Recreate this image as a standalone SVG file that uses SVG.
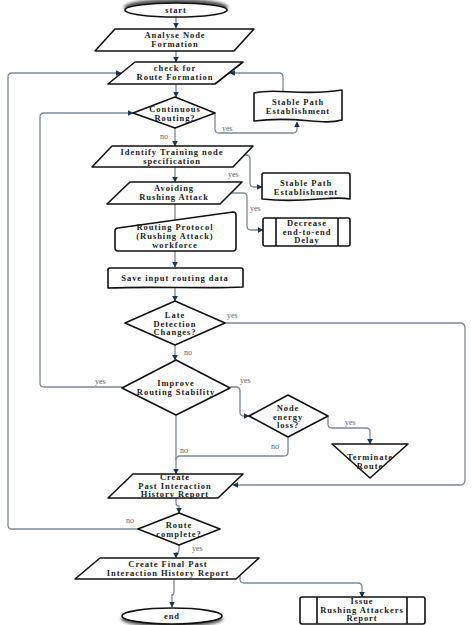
<svg xmlns="http://www.w3.org/2000/svg" width="474" height="625" viewBox="0 0 474 625">
<defs>
<style>
.s{fill:#fff;stroke:#111;stroke-width:1.6;stroke-linejoin:round}
.t{font-family:"Liberation Serif","Times New Roman",serif;font-weight:bold;font-size:8.5px;letter-spacing:0.95px;fill:#222;text-anchor:middle}
.c{fill:none;stroke:#7d8893;stroke-width:1.3}
.l{font-family:"Liberation Serif","Times New Roman",serif;font-size:8px;fill:#666}
</style>
<marker id="a" viewBox="0 0 10 10" refX="9" refY="5" markerWidth="6" markerHeight="6" orient="auto" markerUnits="userSpaceOnUse">
<path d="M0 0L10 5L0 10Z" fill="#1d3650"/>
</marker>
<filter id="sh" x="-20%" y="-50%" width="140%" height="200%"><feGaussianBlur stdDeviation="1.5"/></filter>
</defs>
<rect width="474" height="625" fill="#fff"/>

<g id="connectors">
<path class="c" d="M176 17V28" marker-end="url(#a)"/>
<path class="c" d="M176 51V62" marker-end="url(#a)"/>
<path class="c" d="M176 84V97" marker-end="url(#a)"/>
<path class="c" d="M175 128V146" marker-end="url(#a)"/>
<path class="c" d="M175 167V182" marker-end="url(#a)"/>
<path class="c" d="M175 204V220"/>
<path class="c" d="M175 251V267" marker-end="url(#a)"/>
<path class="c" d="M175 288V301" marker-end="url(#a)"/>
<path class="c" d="M175 345V360" marker-end="url(#a)"/>
<path class="c" d="M176 415V474" marker-end="url(#a)"/>
<path class="c" d="M176 498V503Q176 506 179 506V513" marker-end="url(#a)"/>
<path class="c" d="M179 545V550Q179 553 176 553V558" marker-end="url(#a)"/>
<path class="c" d="M174 579V592Q174 595 172 595V607" marker-end="url(#a)"/>
<path class="c" d="M138 529H12Q8 529 8 525V77Q8 73 12 73H121" marker-end="url(#a)"/>
<path class="c" d="M283 91V77Q283 73 279 73H230" marker-end="url(#a)"/>
<path class="c" d="M215 113V129Q215 133 219 133H293Q297 133 297 129V122" marker-end="url(#a)"/>
<path class="c" d="M245 155H246Q250 155 250 159V183Q250 187 254 187H262" marker-end="url(#a)"/>
<path class="c" d="M219 193H243Q247 193 247 197V226Q247 230 251 230H263" marker-end="url(#a)"/>
<path class="c" d="M225 323H460Q465 323 465 328V480Q465 485 460 485H233" marker-end="url(#a)"/>
<path class="c" d="M122 387H44Q40 387 40 383V117Q40 113 44 113H133" marker-end="url(#a)"/>
<path class="c" d="M230 387H236Q240 387 240 391V412Q240 416 244 416H249" marker-end="url(#a)"/>
<path class="c" d="M328 416V424Q328 428 332 428H366Q370 428 370 432V444" marker-end="url(#a)"/>
<path class="c" d="M288 437V452Q288 456 284 456H180Q176 456 176 460"/>
<path class="c" d="M240 569V579Q240 583 244 583H358Q362 583 362 587V597" marker-end="url(#a)"/>
<text class="l" x="222" y="131">yes</text>
<text class="l" x="160" y="139">no</text>
<text class="l" x="228" y="177">yes</text>
<text class="l" x="250" y="211">yes</text>
<text class="l" x="227" y="318">yes</text>
<text class="l" x="184" y="355">no</text>
<text class="l" x="95" y="384">yes</text>
<text class="l" x="240" y="383">yes</text>
<text class="l" x="345" y="425">yes</text>
<text class="l" x="271" y="449">no</text>
<text class="l" x="180" y="453">no</text>
<text class="l" x="126" y="523">no</text>
<text class="l" x="192" y="551">yes</text>
</g>

<g id="start">
<ellipse cx="176" cy="7" rx="52" ry="8" fill="#555" filter="url(#sh)"/>
<ellipse class="s" cx="176" cy="10" rx="51" ry="7"/>
<text class="t" x="176" y="13">start</text>
</g>

<g id="analyse">
<path class="s" d="M115 29H254L234 51H95Z"/>
<text class="t" x="175" y="38">Analyse Node</text>
<text class="t" x="175" y="47">Formation</text>
</g>

<g id="check">
<path class="s" d="M135 62H243L215 84H108Z"/>
<text class="t" x="175" y="71">check for</text>
<text class="t" x="175" y="80">Route Formation</text>
</g>

<g id="stable1">
<path class="s" d="M254 93C276 87 300 97 342 90V120C320 126 298 115 254 121Z"/>
<text class="t" x="298" y="105">Stable Path</text>
<text class="t" x="298" y="114">Establishment</text>
</g>

<g id="continuous">
<path class="s" d="M175 97L215 113L175 128L133 113Z"/>
<text class="t" x="175" y="112">Continuous</text>
<text class="t" x="175" y="121">Routing?</text>
</g>

<g id="identify">
<path class="s" d="M112 146H253L233 167H92Z"/>
<text class="t" x="172" y="155">Identify Training node</text>
<text class="t" x="172" y="164">specification</text>
</g>

<g id="stable2">
<path class="s" d="M262 175Q262 173 264 173H348Q350 173 350 175V199C330 195 306 204 262 199Z"/>
<text class="t" x="306" y="186">Stable Path</text>
<text class="t" x="306" y="195">Establishment</text>
</g>

<g id="avoiding">
<path class="s" d="M130 182H242L220 204H107Z"/>
<text class="t" x="174" y="191">Avoiding</text>
<text class="t" x="174" y="200">Rushing Attack</text>
</g>

<g id="decrease">
<rect class="s" x="263" y="218" width="87" height="28" rx="2"/>
<path class="s" d="M276 218V246M338 218V246"/>
<text class="t" x="307" y="226">Decrease</text>
<text class="t" x="307" y="234.5">end-to-end</text>
<text class="t" x="307" y="243">Delay</text>
</g>

<g id="routing">
<path class="s" d="M118 228L233 212Q236 212 236 215V248Q236 251 233 251H118Q115 251 115 248V231Q115 228 118 228Z"/>
<text class="t" x="175" y="230">Routing  Protocol</text>
<text class="t" x="175" y="239">(Rushing Attack)</text>
<text class="t" x="175" y="248">workforce</text>
</g>

<g id="save">
<path class="s" d="M110 268H241Q243 268 243 270V287C210 289 150 286 108 288V270Q108 268 110 268Z"/>
<text class="t" x="175" y="281">Save input routing data</text>
</g>

<g id="late">
<path class="s" d="M175 301L225 323L175 345L125 323Z"/>
<text class="t" x="175" y="318">Late</text>
<text class="t" x="175" y="326.5">Detection</text>
<text class="t" x="175" y="335">Changes?</text>
</g>

<g id="improve">
<path class="s" d="M176 360L230 388L176 415L122 388Z"/>
<text class="t" x="176" y="386">Improve</text>
<text class="t" x="176" y="395">Routing Stability</text>
</g>

<g id="energy">
<path class="s" d="M288 395L328 416L288 437L249 416Z"/>
<text class="t" x="288" y="411">Node</text>
<text class="t" x="288" y="419.5">energy</text>
<text class="t" x="288" y="428">loss?</text>
</g>

<g id="terminate">
<path class="s" d="M332 444H408L370 478Z"/>
<text class="t" x="370" y="460">Terminate</text>
<text class="t" x="370" y="469">Route</text>
</g>

<g id="create">
<path class="s" d="M133 474H243L218 498H108Z"/>
<text class="t" x="175" y="480">Create</text>
<text class="t" x="175" y="488.5">Past Interaction</text>
<text class="t" x="175" y="497">History Report</text>
</g>

<g id="route">
<path class="s" d="M179 513L220 529L179 545L138 529Z"/>
<text class="t" x="179" y="528">Route</text>
<text class="t" x="179" y="537">complete?</text>
</g>

<g id="final">
<path class="s" d="M100 558H259L236 579H75Z"/>
<text class="t" x="168" y="567">Create Final Past</text>
<text class="t" x="168" y="576">Interaction History Report</text>
</g>

<g id="issue">
<rect class="s" x="300" y="597" width="125" height="27" rx="2"/>
<path class="s" d="M317 597V624M407 597V624"/>
<text class="t" x="362" y="604">Issue</text>
<text class="t" x="362" y="612.5">Rushing Attackers</text>
<text class="t" x="362" y="621">Report</text>
</g>

<g id="end">
<ellipse cx="172" cy="619" rx="51" ry="8" fill="#555" filter="url(#sh)"/>
<ellipse class="s" cx="172" cy="616" rx="50" ry="8"/>
<text class="t" x="172" y="619">end</text>
</g>
</svg>
